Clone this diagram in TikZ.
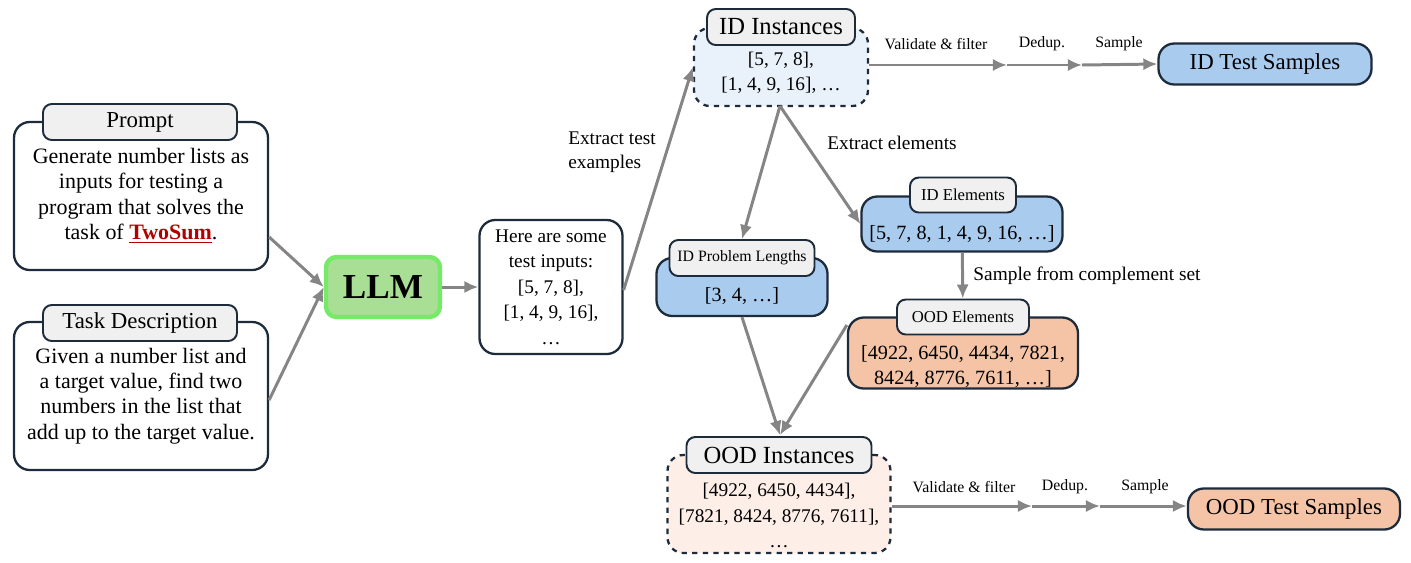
\documentclass[tikz,border=0pt]{standalone}
\usepackage{fontspec}
\setmainfont{Liberation Serif}
\usetikzlibrary{arrows.meta}
\definecolor{edge}{HTML}{1D2B3A}
\definecolor{idblue}{HTML}{A9CBEE}
\definecolor{idpale}{HTML}{E9F2FB}
\definecolor{oodorange}{HTML}{F5C4A6}
\definecolor{oodpale}{HTML}{FDEFE7}
\definecolor{headgray}{HTML}{F0F0F0}
\definecolor{llmgreen}{HTML}{A9DF95}
\definecolor{arrowgray}{HTML}{858585}
\newcommand{\down}[2]{\raisebox{-#1}[\height][\depth]{\begin{tabular}{@{}c@{}}#2\end{tabular}}}

\tikzset{
  size/.style 2 args={minimum width=#1*0.02cm, minimum height=#2*0.02cm},
  body/.style={draw=edge, line width=1.3pt, rounded corners=9pt, inner sep=0pt, align=center, font=\fontsize{12.5}{14.5}\selectfont},
  head/.style={draw=edge, line width=1.1pt, rounded corners=5pt, fill=headgray, inner sep=0pt},
  flow/.style={draw=arrowgray, line width=1.7pt, -{Latex[length=8pt,width=7pt]}},
  tag/.style={font=\fontsize{9}{11}\selectfont, align=left}
}

\begin{document}
\begin{tikzpicture}[x=0.02cm, y=-0.02cm]
\useasboundingbox (0,0) rectangle (1411,562);
% left inputs
\node[body, fill=white, size={254}{148}] (prompt) at (141,196) {Generate number lists as\\inputs for testing a\\program that solves the\\task of \textcolor{red!70!black}{\textbf{\underline{TwoSum}}}.};
\node[head, size={194}{36}, font=\fontsize{13}{15}\selectfont] (prompthead) at (140,122) {Prompt};
\node[body, fill=white, size={254}{148}] (task) at (141,396) {Given a number list and\\a target value, find two\\numbers in the list that\\add up to the target value.};
\node[head, size={194}{36}, font=\fontsize{13}{15}\selectfont] (taskhead) at (140,323) {Task Description};
% model
\node[draw=llmgreen!70!green, line width=2.5pt, fill=llmgreen, rounded corners=6pt, size={114}{60}, font=\fontsize{20}{22}\selectfont\bfseries] (llm) at (383,287) {LLM};
\node[body, fill=white, size={143}{134}, font=\fontsize{11}{14.5}\selectfont] (inputs) at (551,287) {Here are some\\test inputs:\\{[5, 7, 8],}\\{[1, 4, 9, 16],}\\\dots};
% ID branch
\node[body, dashed, fill=idpale, size={174}{78}, font=\fontsize{11}{14.5}\selectfont] (idinst) at (781,67) {\down{3.4pt}{[5, 7, 8],\\{[1, 4, 9, 16], \dots}}};
\node[head, size={148}{36}, font=\fontsize{14}{16}\selectfont] (idinsthead) at (781,27) {ID Instances};
\node[body, fill=idblue, size={213}{41}, font=\fontsize{13}{15}\selectfont] (idtest) at (1265,64) {ID Test Samples};
\node[body, fill=idblue, size={201}{55}, font=\fontsize{11.5}{14}\selectfont] (idelem) at (962,224) {\down{6pt}{[5, 7, 8, 1, 4, 9, 16, \dots]}};
\node[head, size={106}{35}, font=\fontsize{9.5}{11}\selectfont] (idelemhead) at (963,195) {ID Elements};
\node[body, fill=idblue, size={171}{58}, font=\fontsize{11.5}{14}\selectfont] (idlen) at (742,287) {\down{5.5pt}{[3, 4, \dots]}};
\node[head, size={145}{36}, font=\fontsize{9}{11}\selectfont] (idlenhead) at (742,258) {ID Problem Lengths};
% OOD branch
\node[body, fill=oodorange, size={230}{71}, font=\fontsize{11.5}{14}\selectfont] (oodelem) at (963,353) {\down{8pt}{[4922, 6450, 4434, 7821,\\8424, 8776, 7611, \dots]}};
\node[head, size={132}{35}, font=\fontsize{9.5}{11}\selectfont] (oodelemhead) at (963,317) {OOD Elements};
\node[body, dashed, fill=oodpale, size={223}{98}, font=\fontsize{11}{14.5}\selectfont] (oodinst) at (779,504) {\down{7.5pt}{[4922, 6450, 4434],\\{[7821, 8424, 8776, 7611],}\\\dots}};
\node[head, size={185}{36}, font=\fontsize{14}{16}\selectfont] (oodinsthead) at (779,455) {OOD Instances};
\node[body, fill=oodorange, size={212}{41}, font=\fontsize{13}{15}\selectfont] (oodtest) at (1294,509) {OOD Test Samples};
% pipeline points
\coordinate (idv) at (1007,65);
\coordinate (idd) at (1082,65);
\coordinate (oodv) at (1032,506);
\coordinate (oodd) at (1100,506);
\coordinate (split) at (780,106);
\coordinate (merge) at (780,435);

% connectors
\draw[flow] (prompt.east |- 0,237) -- (llm.west);
\draw[flow] (task.east |- 0,400) -- (llm.west);
\draw[flow] (llm) -- (inputs);
\draw[flow] (inputs.east |- 0,290) -- (idinst.west);
\node[tag, font=\fontsize{11}{13.5}\selectfont] at (612,152) {Extract test\\examples};
\draw[flow] (split) -- (idlenhead.north);
\draw[flow] (split) -- (idelem.west);
\node[tag, font=\fontsize{11}{13}\selectfont] at (892,143) {Extract elements};
\draw[flow] (idelem) -- (oodelemhead);
\node[tag, font=\fontsize{11}{13}\selectfont] at (1087,276) {Sample from complement set};
\draw[flow] (idlen.south) -- (merge);
\draw[flow] (oodelem.west |- 0,325) -- (merge);
\draw[flow] (idinst.east |- idv) -- (idv);
\draw[flow] (idv) -- (idd);
\draw[flow] (idd) -- (idtest.west);
\node[tag] at (936,44) {Validate \& filter};
\node[tag] at (1042,44) {Dedup.};
\node[tag] at (1119,44) {Sample};
\draw[flow] (oodinst.east |- oodv) -- (oodv);
\draw[flow] (oodv) -- (oodd);
\draw[flow] (oodd) -- (oodtest.west |- oodv);
\node[tag] at (964,487) {Validate \& filter};
\node[tag] at (1065,487) {Dedup.};
\node[tag] at (1145,487) {Sample};
\end{tikzpicture}
\end{document}
